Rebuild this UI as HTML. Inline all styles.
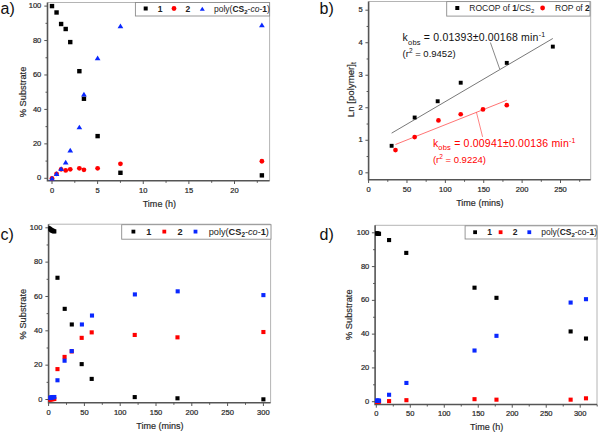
<!DOCTYPE html><html><head><meta charset="utf-8"><style>html,body{margin:0;padding:0;background:#fff;width:599px;height:434px;overflow:hidden}svg{position:absolute;left:0;top:0;font-family:"Liberation Sans",sans-serif}</style></head><body>
<svg width="599" height="434" viewBox="0 0 599 434" fill="#222">
<text x="0.5" y="14.4" font-size="16" fill="#111">a)</text>
<text x="319.5" y="13.8" font-size="16" fill="#111">b)</text>
<text x="0.5" y="239.6" font-size="16" fill="#111">c)</text>
<text x="319.5" y="239.6" font-size="16" fill="#111">d)</text>
<path d="M47.5 2.5H269.6V180.8" fill="none" stroke="#b4b4b4" stroke-width="1"/>
<path d="M47.5 2.5V180.8H269.6" fill="none" stroke="#555555" stroke-width="1.6"/>
<path d="M52 180.8v3.2M97.62 180.8v3.2M143.25 180.8v3.2M188.88 180.8v3.2M234.5 180.8v3.2M74.81 180.8v2.0M120.44 180.8v2.0M166.06 180.8v2.0M211.69 180.8v2.0M257.31 180.8v2.0M47.5 178.3h-3.2M47.5 143.86h-3.2M47.5 109.42h-3.2M47.5 74.98h-3.2M47.5 40.54h-3.2M47.5 6.1h-3.2M47.5 161.08h-2.0M47.5 126.64h-2.0M47.5 92.2h-2.0M47.5 57.76h-2.0M47.5 23.32h-2.0" stroke="#555555" stroke-width="1"/>
<text transform="translate(52 193.2) scale(0.93 1)" font-size="8.1" text-anchor="middle" stroke="#333" stroke-width="0.25">0</text>
<text transform="translate(97.62 193.2) scale(0.93 1)" font-size="8.1" text-anchor="middle" stroke="#333" stroke-width="0.25">5</text>
<text transform="translate(143.25 193.2) scale(0.93 1)" font-size="8.1" text-anchor="middle" stroke="#333" stroke-width="0.25">10</text>
<text transform="translate(188.88 193.2) scale(0.93 1)" font-size="8.1" text-anchor="middle" stroke="#333" stroke-width="0.25">15</text>
<text transform="translate(234.5 193.2) scale(0.93 1)" font-size="8.1" text-anchor="middle" stroke="#333" stroke-width="0.25">20</text>
<text transform="translate(41.3 180.41) scale(0.93 1)" font-size="8.1" text-anchor="end" stroke="#333" stroke-width="0.25">0</text>
<text transform="translate(41.3 145.97) scale(0.93 1)" font-size="8.1" text-anchor="end" stroke="#333" stroke-width="0.25">20</text>
<text transform="translate(41.3 111.53) scale(0.93 1)" font-size="8.1" text-anchor="end" stroke="#333" stroke-width="0.25">40</text>
<text transform="translate(41.3 77.09) scale(0.93 1)" font-size="8.1" text-anchor="end" stroke="#333" stroke-width="0.25">60</text>
<text transform="translate(41.3 42.65) scale(0.93 1)" font-size="8.1" text-anchor="end" stroke="#333" stroke-width="0.25">80</text>
<text transform="translate(41.3 8.21) scale(0.93 1)" font-size="8.1" text-anchor="end" stroke="#333" stroke-width="0.25">100</text>
<text transform="translate(25.8 92) rotate(-90)" font-size="9.3" text-anchor="middle" stroke="#333" stroke-width="0.18">% Substrate</text>
<text transform="translate(159.3 207.3) scale(0.96 1)" font-size="9.4" text-anchor="middle" stroke="#333" stroke-width="0.18">Time (h)</text>
<rect x="49.8" y="3.9" width="4.4" height="4.4" fill="#000"/>
<rect x="54.36" y="10.27" width="4.4" height="4.4" fill="#000"/>
<rect x="58.92" y="21.81" width="4.4" height="4.4" fill="#000"/>
<rect x="63.49" y="26.8" width="4.4" height="4.4" fill="#000"/>
<rect x="68.05" y="39.89" width="4.4" height="4.4" fill="#000"/>
<rect x="77.17" y="68.99" width="4.4" height="4.4" fill="#000"/>
<rect x="81.74" y="96.54" width="4.4" height="4.4" fill="#000"/>
<rect x="95.42" y="133.91" width="4.4" height="4.4" fill="#000"/>
<rect x="118.24" y="170.59" width="4.4" height="4.4" fill="#000"/>
<rect x="259.68" y="173.17" width="4.4" height="4.4" fill="#000"/>
<circle cx="52" cy="178.3" r="2.4" fill="#ff0000"/>
<circle cx="56.56" cy="173.82" r="2.4" fill="#ff0000"/>
<circle cx="61.12" cy="169.35" r="2.4" fill="#ff0000"/>
<circle cx="65.69" cy="170.38" r="2.4" fill="#ff0000"/>
<circle cx="70.25" cy="169.35" r="2.4" fill="#ff0000"/>
<circle cx="79.38" cy="168.31" r="2.4" fill="#ff0000"/>
<circle cx="83.94" cy="169.86" r="2.4" fill="#ff0000"/>
<circle cx="97.62" cy="168.31" r="2.4" fill="#ff0000"/>
<circle cx="120.44" cy="163.84" r="2.4" fill="#ff0000"/>
<circle cx="261.88" cy="161.25" r="2.4" fill="#ff0000"/>
<path d="M52 175.81L54.85 180.51H49.15Z" fill="#0a28ff"/>
<path d="M56.56 171.33L59.41 176.03H53.71Z" fill="#0a28ff"/>
<path d="M61.12 166.34L63.98 171.04H58.27Z" fill="#0a28ff"/>
<path d="M65.69 159.79L68.54 164.49H62.84Z" fill="#0a28ff"/>
<path d="M70.25 147.74L73.1 152.44H67.4Z" fill="#0a28ff"/>
<path d="M79.38 124.67L82.22 129.37H76.53Z" fill="#0a28ff"/>
<path d="M83.94 91.78L86.79 96.48H81.09Z" fill="#0a28ff"/>
<path d="M97.62 55.61L100.47 60.31H94.78Z" fill="#0a28ff"/>
<path d="M120.44 23.58L123.29 28.28H117.59Z" fill="#0a28ff"/>
<path d="M261.88 22.55L264.73 27.25H259.02Z" fill="#0a28ff"/>
<rect x="135.4" y="2.5" width="134.2" height="13.5" fill="#fff" stroke="#8c8c8c" stroke-width="0.9"/>
<rect x="143.7" y="6.5" width="4" height="4" fill="#000"/>
<text x="160" y="11.8" font-size="8.5" font-weight="bold" text-anchor="middle">1</text>
<circle cx="174" cy="8.5" r="2.4" fill="#ff0000"/>
<text x="187.8" y="11.8" font-size="8.5" font-weight="bold" text-anchor="middle">2</text>
<path d="M202.3 6.82L204.8 10.82H199.8Z" fill="#0a28ff"/>
<text x="214" y="11.8" font-size="8.5">poly(<tspan font-weight="bold">CS<tspan font-size="6" dy="2">2</tspan></tspan><tspan dy="-2">-</tspan><tspan font-style="italic">co</tspan>-<tspan font-weight="bold">1</tspan>)</text>
<path d="M368.6 1.5H590.7V179.8" fill="none" stroke="#b4b4b4" stroke-width="1"/>
<path d="M368.6 1.5V179.8H590.7" fill="none" stroke="#555555" stroke-width="1.6"/>
<path d="M368.6 179.8v3.2M406.98 179.8v3.2M445.36 179.8v3.2M483.74 179.8v3.2M522.12 179.8v3.2M560.5 179.8v3.2M387.79 179.8v2.0M426.17 179.8v2.0M464.55 179.8v2.0M502.93 179.8v2.0M541.31 179.8v2.0M579.69 179.8v2.0M368.6 172.8h-3.2M368.6 140.28h-3.2M368.6 107.76h-3.2M368.6 75.24h-3.2M368.6 42.72h-3.2M368.6 10.2h-3.2M368.6 156.54h-2.0M368.6 124.02h-2.0M368.6 91.5h-2.0M368.6 58.98h-2.0M368.6 26.46h-2.0" stroke="#555555" stroke-width="1"/>
<text transform="translate(368.6 192.3) scale(0.93 1)" font-size="8.1" text-anchor="middle" stroke="#333" stroke-width="0.25">0</text>
<text transform="translate(406.98 192.3) scale(0.93 1)" font-size="8.1" text-anchor="middle" stroke="#333" stroke-width="0.25">50</text>
<text transform="translate(445.36 192.3) scale(0.93 1)" font-size="8.1" text-anchor="middle" stroke="#333" stroke-width="0.25">100</text>
<text transform="translate(483.74 192.3) scale(0.93 1)" font-size="8.1" text-anchor="middle" stroke="#333" stroke-width="0.25">150</text>
<text transform="translate(522.12 192.3) scale(0.93 1)" font-size="8.1" text-anchor="middle" stroke="#333" stroke-width="0.25">200</text>
<text transform="translate(560.5 192.3) scale(0.93 1)" font-size="8.1" text-anchor="middle" stroke="#333" stroke-width="0.25">250</text>
<text transform="translate(362.7 174.91) scale(0.93 1)" font-size="8.1" text-anchor="end" stroke="#333" stroke-width="0.25">0</text>
<text transform="translate(362.7 142.39) scale(0.93 1)" font-size="8.1" text-anchor="end" stroke="#333" stroke-width="0.25">1</text>
<text transform="translate(362.7 109.87) scale(0.93 1)" font-size="8.1" text-anchor="end" stroke="#333" stroke-width="0.25">2</text>
<text transform="translate(362.7 77.35) scale(0.93 1)" font-size="8.1" text-anchor="end" stroke="#333" stroke-width="0.25">3</text>
<text transform="translate(362.7 44.83) scale(0.93 1)" font-size="8.1" text-anchor="end" stroke="#333" stroke-width="0.25">4</text>
<text transform="translate(362.7 12.31) scale(0.93 1)" font-size="8.1" text-anchor="end" stroke="#333" stroke-width="0.25">5</text>
<text transform="translate(353.5 89.7) rotate(-90)" font-size="9.7" text-anchor="middle" stroke="#333" stroke-width="0.18">Ln [polymer]<tspan font-size="6.5" dy="2">t</tspan></text>
<text transform="translate(479.8 206.2) scale(0.96 1)" font-size="9.4" text-anchor="middle" stroke="#333" stroke-width="0.18">Time (mins)</text>
<line x1="391.63" y1="133.13" x2="552.82" y2="38.49" stroke="#555" stroke-width="0.8"/>
<line x1="395.47" y1="144.51" x2="506.77" y2="100.28" stroke="#ff5050" stroke-width="0.8"/>
<line x1="490.4" y1="42.5" x2="499.7" y2="69" stroke="#555" stroke-width="0.7"/>
<line x1="476.4" y1="112.1" x2="482.6" y2="136.9" stroke="#ff5050" stroke-width="0.7"/>
<rect x="389.68" y="143.86" width="3.9" height="3.9" fill="#000"/>
<rect x="412.71" y="115.57" width="3.9" height="3.9" fill="#000"/>
<rect x="435.73" y="99.31" width="3.9" height="3.9" fill="#000"/>
<rect x="458.76" y="80.77" width="3.9" height="3.9" fill="#000"/>
<rect x="504.82" y="60.93" width="3.9" height="3.9" fill="#000"/>
<rect x="550.87" y="44.67" width="3.9" height="3.9" fill="#000"/>
<circle cx="395.47" cy="150.04" r="2.35" fill="#ff0000"/>
<circle cx="414.66" cy="137.03" r="2.35" fill="#ff0000"/>
<circle cx="438.45" cy="120.44" r="2.35" fill="#ff0000"/>
<circle cx="460.71" cy="114.26" r="2.35" fill="#ff0000"/>
<circle cx="482.97" cy="109.39" r="2.35" fill="#ff0000"/>
<circle cx="506.77" cy="105.16" r="2.35" fill="#ff0000"/>
<text x="402.6" y="41.2" font-size="10.5" letter-spacing="0.2" fill="#111">k<tspan font-size="7.5" dy="3.5">obs</tspan><tspan dy="-3.5"> = 0.01393±0.00168 min</tspan><tspan font-size="7" dy="-4">-1</tspan></text>
<text x="402.6" y="56.8" font-size="9.5" fill="#111">(r<tspan font-size="6.5" dy="-3.6">2</tspan><tspan dy="3.6"> = 0.9452)</tspan></text>
<text x="432.9" y="146.5" font-size="10.5" letter-spacing="0.2" fill="#ff0000">k<tspan font-size="7.5" dy="3.5">obs</tspan><tspan dy="-3.5"> = 0.00941±0.00136 min</tspan><tspan font-size="7" dy="-4">-1</tspan></text>
<text x="432.9" y="162.6" font-size="9.5" fill="#ff0000">(r<tspan font-size="6.5" dy="-3.6">2</tspan><tspan dy="3.6"> = 0.9224)</tspan></text>
<rect x="446.7" y="1.6" width="143.3" height="14.5" fill="#fff" stroke="#8c8c8c" stroke-width="0.9"/>
<rect x="455.3" y="6" width="4" height="4" fill="#000"/>
<text x="469.3" y="11.3" font-size="8.5">ROCOP of <tspan font-weight="bold">1</tspan>/CS<tspan font-size="6" dy="2">2</tspan></text>
<circle cx="542.6" cy="8" r="2.4" fill="#ff0000"/>
<text x="555" y="11.3" font-size="8.5">ROP of <tspan font-weight="bold">2</tspan></text>
<path d="M48.6 224.2H270.6V402.8" fill="none" stroke="#b4b4b4" stroke-width="1"/>
<path d="M48.6 224.2V402.8H270.6" fill="none" stroke="#555555" stroke-width="1.6"/>
<path d="M48.6 402.8v3.2M84.4 402.8v3.2M120.2 402.8v3.2M156 402.8v3.2M191.8 402.8v3.2M227.6 402.8v3.2M263.4 402.8v3.2M66.5 402.8v2.0M102.3 402.8v2.0M138.1 402.8v2.0M173.9 402.8v2.0M209.7 402.8v2.0M245.5 402.8v2.0M48.6 399.5h-3.2M48.6 365.16h-3.2M48.6 330.82h-3.2M48.6 296.48h-3.2M48.6 262.14h-3.2M48.6 227.8h-3.2M48.6 382.33h-2.0M48.6 347.99h-2.0M48.6 313.65h-2.0M48.6 279.31h-2.0M48.6 244.97h-2.0" stroke="#555555" stroke-width="1"/>
<text transform="translate(48.6 414.6) scale(0.93 1)" font-size="8.1" text-anchor="middle" stroke="#333" stroke-width="0.25">0</text>
<text transform="translate(84.4 414.6) scale(0.93 1)" font-size="8.1" text-anchor="middle" stroke="#333" stroke-width="0.25">50</text>
<text transform="translate(120.2 414.6) scale(0.93 1)" font-size="8.1" text-anchor="middle" stroke="#333" stroke-width="0.25">100</text>
<text transform="translate(156 414.6) scale(0.93 1)" font-size="8.1" text-anchor="middle" stroke="#333" stroke-width="0.25">150</text>
<text transform="translate(191.8 414.6) scale(0.93 1)" font-size="8.1" text-anchor="middle" stroke="#333" stroke-width="0.25">200</text>
<text transform="translate(227.6 414.6) scale(0.93 1)" font-size="8.1" text-anchor="middle" stroke="#333" stroke-width="0.25">250</text>
<text transform="translate(263.4 414.6) scale(0.93 1)" font-size="8.1" text-anchor="middle" stroke="#333" stroke-width="0.25">300</text>
<text transform="translate(42.4 401.61) scale(0.93 1)" font-size="8.1" text-anchor="end" stroke="#333" stroke-width="0.25">0</text>
<text transform="translate(42.4 367.27) scale(0.93 1)" font-size="8.1" text-anchor="end" stroke="#333" stroke-width="0.25">20</text>
<text transform="translate(42.4 332.93) scale(0.93 1)" font-size="8.1" text-anchor="end" stroke="#333" stroke-width="0.25">40</text>
<text transform="translate(42.4 298.59) scale(0.93 1)" font-size="8.1" text-anchor="end" stroke="#333" stroke-width="0.25">60</text>
<text transform="translate(42.4 264.25) scale(0.93 1)" font-size="8.1" text-anchor="end" stroke="#333" stroke-width="0.25">80</text>
<text transform="translate(42.4 229.91) scale(0.93 1)" font-size="8.1" text-anchor="end" stroke="#333" stroke-width="0.25">100</text>
<text transform="translate(26.3 314.1) rotate(-90)" font-size="9.3" text-anchor="middle" stroke="#333" stroke-width="0.18">% Substrate</text>
<text transform="translate(159.9 429.2) scale(0.96 1)" font-size="9.4" text-anchor="middle" stroke="#333" stroke-width="0.18">Time (mins)</text>
<clipPath id="clpc"><rect x="48.6" y="224.2" width="222" height="178.6"/></clipPath><g clip-path="url(#clpc)">
<rect x="46.55" y="226.09" width="4.1" height="4.1" fill="#000"/>
<rect x="47.27" y="226.61" width="4.1" height="4.1" fill="#000"/>
<rect x="47.98" y="227.12" width="4.1" height="4.1" fill="#000"/>
<rect x="48.7" y="227.64" width="4.1" height="4.1" fill="#000"/>
<rect x="49.41" y="228.15" width="4.1" height="4.1" fill="#000"/>
<rect x="50.13" y="228.5" width="4.1" height="4.1" fill="#000"/>
<rect x="50.85" y="228.84" width="4.1" height="4.1" fill="#000"/>
<rect x="51.56" y="229.18" width="4.1" height="4.1" fill="#000"/>
<rect x="52.28" y="229.36" width="4.1" height="4.1" fill="#000"/>
<rect x="55.43" y="275.71" width="4.1" height="4.1" fill="#000"/>
<rect x="62.66" y="306.79" width="4.1" height="4.1" fill="#000"/>
<rect x="69.75" y="322.42" width="4.1" height="4.1" fill="#000"/>
<rect x="79.63" y="362.08" width="4.1" height="4.1" fill="#000"/>
<rect x="89.65" y="376.85" width="4.1" height="4.1" fill="#000"/>
<rect x="132.68" y="395.05" width="4.1" height="4.1" fill="#000"/>
<rect x="175.43" y="396.25" width="4.1" height="4.1" fill="#000"/>
<rect x="261.35" y="397.28" width="4.1" height="4.1" fill="#000"/>
<rect x="46.55" y="397.45" width="4.1" height="4.1" fill="#ff0000"/>
<rect x="47.27" y="397.45" width="4.1" height="4.1" fill="#ff0000"/>
<rect x="47.98" y="397.36" width="4.1" height="4.1" fill="#ff0000"/>
<rect x="48.7" y="397.28" width="4.1" height="4.1" fill="#ff0000"/>
<rect x="49.41" y="397.19" width="4.1" height="4.1" fill="#ff0000"/>
<rect x="50.13" y="397.11" width="4.1" height="4.1" fill="#ff0000"/>
<rect x="50.85" y="397.02" width="4.1" height="4.1" fill="#ff0000"/>
<rect x="51.56" y="396.93" width="4.1" height="4.1" fill="#ff0000"/>
<rect x="52.28" y="396.93" width="4.1" height="4.1" fill="#ff0000"/>
<rect x="55.43" y="367.06" width="4.1" height="4.1" fill="#ff0000"/>
<rect x="62.52" y="354.87" width="4.1" height="4.1" fill="#ff0000"/>
<rect x="69.68" y="349.37" width="4.1" height="4.1" fill="#ff0000"/>
<rect x="79.63" y="335.81" width="4.1" height="4.1" fill="#ff0000"/>
<rect x="89.65" y="330.32" width="4.1" height="4.1" fill="#ff0000"/>
<rect x="132.68" y="332.89" width="4.1" height="4.1" fill="#ff0000"/>
<rect x="175.43" y="335.29" width="4.1" height="4.1" fill="#ff0000"/>
<rect x="261.35" y="329.97" width="4.1" height="4.1" fill="#ff0000"/>
<rect x="46.55" y="396.08" width="4.1" height="4.1" fill="#0a28ff"/>
<rect x="47.27" y="395.9" width="4.1" height="4.1" fill="#0a28ff"/>
<rect x="47.98" y="395.73" width="4.1" height="4.1" fill="#0a28ff"/>
<rect x="48.7" y="395.56" width="4.1" height="4.1" fill="#0a28ff"/>
<rect x="49.41" y="395.39" width="4.1" height="4.1" fill="#0a28ff"/>
<rect x="50.13" y="395.3" width="4.1" height="4.1" fill="#0a28ff"/>
<rect x="50.85" y="395.22" width="4.1" height="4.1" fill="#0a28ff"/>
<rect x="51.56" y="395.05" width="4.1" height="4.1" fill="#0a28ff"/>
<rect x="52.28" y="394.96" width="4.1" height="4.1" fill="#0a28ff"/>
<rect x="55.43" y="378.22" width="4.1" height="4.1" fill="#0a28ff"/>
<rect x="62.52" y="358.65" width="4.1" height="4.1" fill="#0a28ff"/>
<rect x="69.68" y="349.03" width="4.1" height="4.1" fill="#0a28ff"/>
<rect x="79.84" y="322.42" width="4.1" height="4.1" fill="#0a28ff"/>
<rect x="89.94" y="313.49" width="4.1" height="4.1" fill="#0a28ff"/>
<rect x="132.83" y="292.37" width="4.1" height="4.1" fill="#0a28ff"/>
<rect x="175.64" y="289.28" width="4.1" height="4.1" fill="#0a28ff"/>
<rect x="261.35" y="293.06" width="4.1" height="4.1" fill="#0a28ff"/>
</g>
<rect x="121.7" y="224.7" width="149.3" height="14.5" fill="#fff" stroke="#8c8c8c" stroke-width="0.9"/>
<rect x="131.5" y="229.7" width="3.8" height="3.8" fill="#000"/>
<text x="148.7" y="235.1" font-size="9.2" font-weight="bold" text-anchor="middle">1</text>
<rect x="162.4" y="229.7" width="3.8" height="3.8" fill="#ff0000"/>
<text x="180.1" y="235.1" font-size="9.2" font-weight="bold" text-anchor="middle">2</text>
<rect x="193.6" y="229.7" width="3.8" height="3.8" fill="#0a28ff"/>
<text x="208.7" y="235.1" font-size="9.2">poly(<tspan font-weight="bold">CS<tspan font-size="6.3" dy="2">2</tspan></tspan><tspan dy="-2">-</tspan><tspan font-style="italic">co</tspan>-<tspan font-weight="bold">1</tspan>)</text>
<path d="M375.1 225.3H597V404.5" fill="none" stroke="#b4b4b4" stroke-width="1"/>
<path d="M375.1 225.3V404.5H597" fill="none" stroke="#555555" stroke-width="1.6"/>
<path d="M376.3 404.5v3.2M410.29 404.5v3.2M444.27 404.5v3.2M478.25 404.5v3.2M512.24 404.5v3.2M546.23 404.5v3.2M580.21 404.5v3.2M393.29 404.5v2.0M427.28 404.5v2.0M461.26 404.5v2.0M495.25 404.5v2.0M529.23 404.5v2.0M563.22 404.5v2.0M597.2 404.5v2.0M375.1 401.7h-3.2M375.1 367.92h-3.2M375.1 334.14h-3.2M375.1 300.36h-3.2M375.1 266.58h-3.2M375.1 232.8h-3.2M375.1 384.81h-2.0M375.1 351.03h-2.0M375.1 317.25h-2.0M375.1 283.47h-2.0M375.1 249.69h-2.0" stroke="#555555" stroke-width="1"/>
<text transform="translate(376.3 416.2) scale(0.93 1)" font-size="8.1" text-anchor="middle" stroke="#333" stroke-width="0.25">0</text>
<text transform="translate(410.29 416.2) scale(0.93 1)" font-size="8.1" text-anchor="middle" stroke="#333" stroke-width="0.25">50</text>
<text transform="translate(444.27 416.2) scale(0.93 1)" font-size="8.1" text-anchor="middle" stroke="#333" stroke-width="0.25">100</text>
<text transform="translate(478.25 416.2) scale(0.93 1)" font-size="8.1" text-anchor="middle" stroke="#333" stroke-width="0.25">150</text>
<text transform="translate(512.24 416.2) scale(0.93 1)" font-size="8.1" text-anchor="middle" stroke="#333" stroke-width="0.25">200</text>
<text transform="translate(546.23 416.2) scale(0.93 1)" font-size="8.1" text-anchor="middle" stroke="#333" stroke-width="0.25">250</text>
<text transform="translate(580.21 416.2) scale(0.93 1)" font-size="8.1" text-anchor="middle" stroke="#333" stroke-width="0.25">300</text>
<text transform="translate(369.3 403.81) scale(0.93 1)" font-size="8.1" text-anchor="end" stroke="#333" stroke-width="0.25">0</text>
<text transform="translate(369.3 370.03) scale(0.93 1)" font-size="8.1" text-anchor="end" stroke="#333" stroke-width="0.25">20</text>
<text transform="translate(369.3 336.25) scale(0.93 1)" font-size="8.1" text-anchor="end" stroke="#333" stroke-width="0.25">40</text>
<text transform="translate(369.3 302.47) scale(0.93 1)" font-size="8.1" text-anchor="end" stroke="#333" stroke-width="0.25">60</text>
<text transform="translate(369.3 268.69) scale(0.93 1)" font-size="8.1" text-anchor="end" stroke="#333" stroke-width="0.25">80</text>
<text transform="translate(369.3 234.91) scale(0.93 1)" font-size="8.1" text-anchor="end" stroke="#333" stroke-width="0.25">100</text>
<text transform="translate(352.4 314.7) rotate(-90)" font-size="9.3" text-anchor="middle" stroke="#333" stroke-width="0.18">% Substrate</text>
<text transform="translate(486.6 430.4) scale(0.96 1)" font-size="9.4" text-anchor="middle" stroke="#333" stroke-width="0.18">Time (h)</text>
<clipPath id="clpd"><rect x="375.1" y="225.3" width="221.9" height="179.2"/></clipPath><g clip-path="url(#clpd)">
<rect x="374.25" y="231.26" width="4.1" height="4.1" fill="#000"/>
<rect x="374.93" y="231.43" width="4.1" height="4.1" fill="#000"/>
<rect x="375.61" y="231.59" width="4.1" height="4.1" fill="#000"/>
<rect x="376.29" y="231.68" width="4.1" height="4.1" fill="#000"/>
<rect x="376.97" y="231.76" width="4.1" height="4.1" fill="#000"/>
<rect x="387.03" y="238.01" width="4.1" height="4.1" fill="#000"/>
<rect x="404.22" y="250.85" width="4.1" height="4.1" fill="#000"/>
<rect x="472.47" y="285.64" width="4.1" height="4.1" fill="#000"/>
<rect x="494.42" y="295.78" width="4.1" height="4.1" fill="#000"/>
<rect x="568.58" y="329.39" width="4.1" height="4.1" fill="#000"/>
<rect x="583.94" y="336.48" width="4.1" height="4.1" fill="#000"/>
<rect x="374.25" y="399.65" width="4.1" height="4.1" fill="#ff0000"/>
<rect x="374.93" y="399.65" width="4.1" height="4.1" fill="#ff0000"/>
<rect x="375.61" y="399.65" width="4.1" height="4.1" fill="#ff0000"/>
<rect x="376.29" y="399.65" width="4.1" height="4.1" fill="#ff0000"/>
<rect x="376.97" y="399.65" width="4.1" height="4.1" fill="#ff0000"/>
<rect x="387.03" y="399.06" width="4.1" height="4.1" fill="#ff0000"/>
<rect x="404.36" y="398.13" width="4.1" height="4.1" fill="#ff0000"/>
<rect x="472.47" y="397.12" width="4.1" height="4.1" fill="#ff0000"/>
<rect x="494.42" y="397.62" width="4.1" height="4.1" fill="#ff0000"/>
<rect x="568.58" y="397.62" width="4.1" height="4.1" fill="#ff0000"/>
<rect x="583.94" y="396.27" width="4.1" height="4.1" fill="#ff0000"/>
<rect x="374.25" y="398.64" width="4.1" height="4.1" fill="#0a28ff"/>
<rect x="374.93" y="398.64" width="4.1" height="4.1" fill="#0a28ff"/>
<rect x="375.61" y="398.64" width="4.1" height="4.1" fill="#0a28ff"/>
<rect x="376.29" y="398.64" width="4.1" height="4.1" fill="#0a28ff"/>
<rect x="376.97" y="398.64" width="4.1" height="4.1" fill="#0a28ff"/>
<rect x="387.03" y="392.73" width="4.1" height="4.1" fill="#0a28ff"/>
<rect x="404.36" y="380.9" width="4.1" height="4.1" fill="#0a28ff"/>
<rect x="472.47" y="348.47" width="4.1" height="4.1" fill="#0a28ff"/>
<rect x="494.42" y="333.78" width="4.1" height="4.1" fill="#0a28ff"/>
<rect x="568.58" y="300.51" width="4.1" height="4.1" fill="#0a28ff"/>
<rect x="583.94" y="297.13" width="4.1" height="4.1" fill="#0a28ff"/>
</g>
<rect x="465.1" y="225.8" width="131.9" height="13.2" fill="#fff" stroke="#8c8c8c" stroke-width="0.9"/>
<rect x="473.2" y="230.3" width="3.8" height="3.8" fill="#000"/>
<text x="489.5" y="235.4" font-size="8.5" font-weight="bold" text-anchor="middle">1</text>
<rect x="498.7" y="230.3" width="3.8" height="3.8" fill="#ff0000"/>
<text x="515" y="235.4" font-size="8.5" font-weight="bold" text-anchor="middle">2</text>
<rect x="527.4" y="230.3" width="3.8" height="3.8" fill="#0a28ff"/>
<text x="541.2" y="235.4" font-size="8.5">poly(<tspan font-weight="bold">CS<tspan font-size="6" dy="2">2</tspan></tspan><tspan dy="-2">-co-</tspan><tspan font-weight="bold">1</tspan>)</text>
</svg></body></html>
